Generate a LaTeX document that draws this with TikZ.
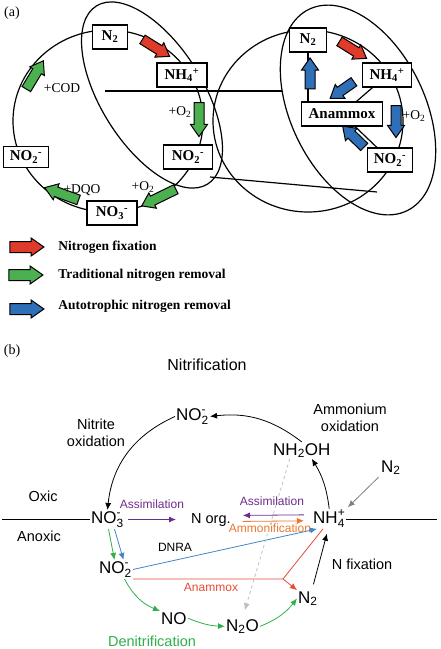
\documentclass[tikz,border=0pt]{standalone}
\usepackage{fontspec}
\setmainfont{Liberation Serif}
\setsansfont{Liberation Sans}
\usepackage{amsmath}
\usepackage{xcolor}
\definecolor{dnred}{HTML}{DE3B2B}
\definecolor{dngreen}{HTML}{4DB050}
\definecolor{dnblue}{HTML}{2F6FB7}
\definecolor{dnpurple}{HTML}{6E2C8A}
\definecolor{dnorange}{HTML}{E8782E}
\definecolor{dnlblue}{HTML}{3F86C4}
\definecolor{dnanam}{HTML}{E64A33}
\definecolor{dndenit}{HTML}{2DB04B}
\def\maufix{dnred}
\def\mautrad{dngreen}
\def\mauauto{dnblue}
\usetikzlibrary{calc,shapes.arrows,positioning,arrows.meta}

\begin{document}
\begin{tikzpicture}[x=1pt,y=-1pt,>={Latex[length=7pt,width=6pt]}]
		\tikzstyle{cbox} = [draw,fill=white,line width=1.2pt,minimum height=24pt,inner sep=1pt,font=\fontsize{15}{15}\selectfont\bfseries]
		\tikzstyle{barrow} = [single arrow,draw,line width=1pt,inner sep=4.5pt,single arrow head extend=3.5pt,single arrow tip angle=70,minimum height=33pt]
		\tikzstyle{ring} = [line width=1.2pt]
		\tikzstyle{plus} = [font=\fontsize{13.5}{13.5}\selectfont]
		\tikzstyle{legtext} = [font=\fontsize{13.5}{13.5}\selectfont\bfseries]
		\tikzstyle{chem} = [inner sep=1pt,anchor=base west,font=\sffamily\fontsize{17}{17}\selectfont]
		\tikzstyle{lab} = [font=\sffamily\fontsize{14.5}{17}\selectfont,align=center]
		\tikzstyle{small} = [font=\sffamily\fontsize{12}{12}\selectfont]
		\tikzstyle{thin} = [line width=0.8pt]
		\useasboundingbox (0,0) rectangle (440,649);
		% (a) two cycles and the zoom
		\node[font=\fontsize{14}{14}\selectfont] (alab) at (12,13) {(a)};
		\draw[ring,rotate around={-58:(152,95)}] (152,95) ellipse (105 and 51);
		\draw[ring,rotate around={-64:(358,110)}] (358,110) ellipse (112 and 67);
		\draw[ring] (108,121) ellipse (95 and 91);
		\draw[ring] (308,121) ellipse (95 and 91);
		\coordinate (lup1) at (105,91);
		\coordinate (lup2) at (282,91);
		\coordinate (llow1) at (210,177);
		\coordinate (llow2) at (377,192);
		\draw[ring] (lup1)--(lup2);
		\draw[ring] (llow1)--(llow2);
		\node[cbox,minimum width=35pt] (n2a) at (110,37) {N\textsubscript{2}};
		\node[cbox,minimum width=50pt] (nh4a) at (182,75) {NH\textsubscript{4}\textsuperscript{+}};
		\node[cbox,minimum width=49pt] (no2a) at (188,157) {NO\textsubscript{2}\textsuperscript{-}};
		\node[cbox,minimum width=50pt] (no3a) at (112,213) {NO\textsubscript{3}\textsuperscript{-}};
		\node[cbox,minimum width=45pt,minimum height=21pt] (no2la) at (26,157) {NO\textsubscript{2}\textsuperscript{-}};
		\node[cbox,minimum width=37pt] (n2b) at (308,40) {N\textsubscript{2}};
		\node[cbox,minimum width=49pt] (nh4b) at (387,75) {NH\textsubscript{4}\textsuperscript{+}};
		\node[cbox,minimum width=81pt] (anam) at (342,114) {Anammox};
		\node[cbox,minimum width=45pt] (no2b) at (390,160) {NO\textsubscript{2}\textsuperscript{-}};
		\draw[ring] (anam.north -| n2b) -- (n2b.south);
		\draw[ring] (nh4b) -- (anam);
		\draw[ring] (no2b) -- (anam);
		\node[barrow,fill=\maufix,rotate=-32,minimum height=32pt] (fixa) at (153,46) {};
		\node[barrow,fill=\mautrad,rotate=-90,minimum height=34pt] (nitra) at (199,116) {};
		\node[barrow,fill=\mautrad,rotate=-154,minimum height=38pt] (nitrb) at (162,196) {};
		\node[barrow,fill=\mautrad,rotate=160,minimum height=36pt] (dena) at (65,195) {};
		\node[barrow,fill=\mautrad,rotate=59,minimum height=33pt] (denb) at (33,78) {};
		\node[barrow,fill=\maufix,rotate=-32,minimum height=32pt] (fixb) at (350,48) {};
		\node[barrow,fill=\mauauto,rotate=-90,minimum height=32pt] (auta) at (396,118) {};
		\node[barrow,fill=\mauauto,rotate=-145,minimum height=29pt] (autb) at (345,88) {};
		\node[barrow,fill=\mauauto,rotate=136,minimum height=30pt] (autc) at (356,139) {};
		\node[barrow,fill=\mauauto,rotate=90,minimum height=31pt] (autd) at (310,77) {};
		\node[plus] (o2a) at (180,112) {+O\textsubscript{2}};
		\node[plus] (o2b) at (143,187) {+O\textsubscript{2}};
		\node[plus] (dqo) at (82,190) {+DQO};
		\node[plus] (cod) at (62,88) {+COD};
		\node[plus] (o2c) at (414,116) {+O\textsubscript{2}};
		% legend
		\node[barrow,fill=\maufix,minimum height=34pt,inner sep=5pt] (legfix) at (23,247) {};
		\node[barrow,fill=\mautrad,minimum height=34pt,inner sep=5pt] (legtrad) at (22,275) {};
		\node[barrow,fill=\mauauto,minimum height=34pt,inner sep=5pt] (legauto) at (23,309) {};
		\node[legtext,right=10pt of legfix] (tfix) {Nitrogen fixation};
		\node[legtext,right=11pt of legtrad] (ttrad) {Traditional nitrogen removal};
		\node[legtext,right=10pt of legauto,yshift=3pt] (tauto) {Autotrophic nitrogen removal};
		% (b) nitrogen cycle
		\node[font=\fontsize{14}{14}\selectfont] (blab) at (12,351) {(b)};
		\node[lab,font=\sffamily\fontsize{16}{16}\selectfont] (nitr) at (207,365) {Nitrification};
		\node[chem] (no2t) at (175,420) {NO$_{\text{2}}^{\text{-}}$};
		\node[chem] (nh2oh) at (272,455) {NH$_{\text{2}}$OH};
		\node[chem] (n2t) at (380,472) {N$_{\text{2}}$};
		\node[chem] (no3) at (90,523) {NO$_{\text{3}}^{\text{-}}$};
		\node[chem,font=\sffamily\fontsize{14.5}{14.5}\selectfont] (norg) at (190,523) {N org.};
		\node[chem] (nh4) at (312,523) {NH$_{\text{4}}^{\text{+}}$};
		\node[chem] (no2l) at (98,573) {NO$_{\text{2}}^{\text{-}}$};
		\node[chem] (no) at (160,624) {NO};
		\node[chem] (n2o) at (225,631) {N$_{\text{2}}$O};
		\node[chem] (n2l) at (297,603) {N$_{\text{2}}$};
		\node[lab] (nitox) at (96,433) {Nitrite\\oxidation};
		\node[lab] (amox) at (350,418) {Ammonium\\oxidation};
		\node[lab] (oxic) at (43,496) {Oxic};
		\node[lab] (anoxic) at (39,536) {Anoxic};
		\node[small,text=dnpurple] (assl) at (152,504) {Assimilation};
		\node[small,text=dnpurple] (assr) at (272,501) {Assimilation};
		\node[small,text=dnorange] (ammon) at (270,528) {Ammonification};
		\node[small] (dnra) at (175,547) {DNRA};
		\node[small,text=dnanam] (anamb) at (211,587) {Anammox};
		\node[lab] (nfix) at (362,564) {N fixation};
		\node[lab,text=dndenit] (denit) at (152,641) {Denitrification};
		\coordinate (oxl) at (2,519);
		\coordinate (oxr) at (437,519);
		\draw[line width=1pt] (oxl) -- (oxl -| no3.west);
		\draw[line width=1pt] (nh4.east |- oxr) -- (oxr);
		\draw[thin,->] (nh4.north) to[bend right=12] (nh2oh.-40);
		\draw[thin,->] (nh2oh.north) to[bend right=22] (no2t.east);
		\draw[thin,->] (no2t.west) to[bend right=30] (no3.north);
		\draw[thin,dnpurple,->,shorten <=3pt,shorten >=14pt] (no3.east) -- (norg.west);
		\draw[thin,dnpurple,->,shorten <=8pt,shorten >=11pt] ([yshift=4pt]nh4.west) -- ([yshift=4pt]norg.east);
		\draw[thin,dnorange,->,shorten <=11pt,shorten >=8pt] ([yshift=-2pt]norg.east) -- ([yshift=-2pt]nh4.west);
		\draw[thin,dndenit,->] ([xshift=1pt]no3.south) -- ([xshift=-1pt]no2l.north);
		\draw[thin,dnlblue,->] ([xshift=7pt]no3.south) -- ([xshift=8pt]no2l.north);
		\draw[thin,dnlblue,->] (no2l.east) -- ([xshift=5pt]nh4.south west);
		\coordinate (amx) at (283,579);
		\draw[thin,dnanam,->] (no2l.south east) -- (amx) -- (n2l.north west);
		\draw[thin,dnanam] ([xshift=11pt]nh4.south west) -- (amx);
		\draw[thin,->,shorten <=6pt,shorten >=5pt] ([xshift=4pt]n2l.north) -- ([xshift=-1pt]nh4.south);
		\draw[thin,gray,->,shorten <=2pt,shorten >=2pt] (n2t.south west) -- (nh4.north east);
		\draw[thin,gray!50,dashed,->,shorten >=8pt] ([xshift=-12pt]nh2oh.south) -- (n2o.north);
		\draw[thin,dndenit,->] ([xshift=9pt]no2l.south) to[bend right=20] (no.north west);
		\draw[thin,dndenit,->] (no.east) to[bend right=10] (n2o.west);
		\draw[thin,dndenit,->] (n2o.east) to[bend right=15] (n2l.west);
	\end{tikzpicture}
\end{document}
